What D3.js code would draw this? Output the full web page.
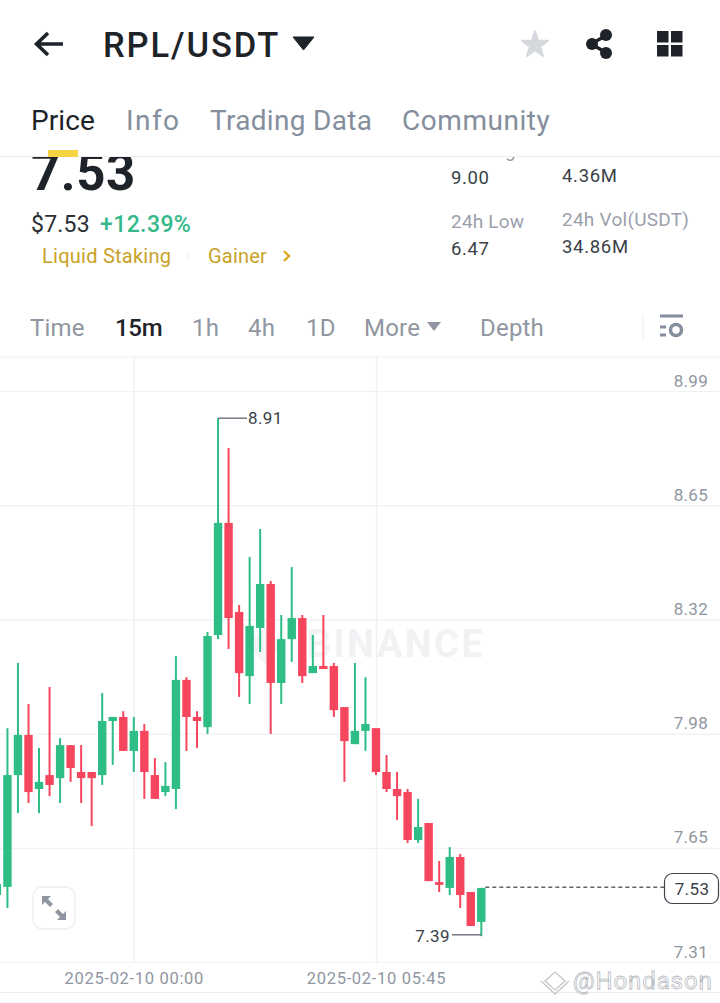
<!DOCTYPE html>
<html><head><meta charset="utf-8">
<script src="https://cdnjs.cloudflare.com/ajax/libs/d3/7.8.5/d3.min.js"></script>
<style>
html,body{margin:0;padding:0;background:#fff}
svg{display:block}
text{font-family:Roboto,"Noto Sans",sans-serif}
</style></head><body>
<svg id="c" width="720" height="1003"></svg>
<script>
// ---- data ----
const candleStart = "2025-02-09T20:45:00Z";   // first, partly hidden candle; one candle per 15 minutes
const opens  = [7.507,7.531,7.860,7.978,7.819,7.860,7.851,7.948,7.869,7.869,7.860,8.019,8.031,7.931,7.990,7.860,7.810,7.819,8.140,8.031,8.001,8.272,8.602,8.340,8.151,8.293,8.422,8.131,8.260,8.322,8.160,8.181,8.181,8.060,7.951,7.990,7.998,7.869,7.819,7.810,7.669,7.719,7.545,7.528,7.619,7.516,7.428];
const highs  = [7.539,7.998,8.190,8.069,7.940,8.119,7.969,7.948,7.948,7.869,8.101,8.031,8.048,8.031,8.010,7.910,7.898,8.210,8.148,8.048,8.281,8.910,8.822,8.360,8.502,8.584,8.431,8.331,8.472,8.331,8.272,8.331,8.190,8.060,8.190,8.148,7.998,7.919,7.869,7.819,7.790,7.719,7.607,7.648,7.628,7.516,7.528];
const lows   = [7.507,7.469,7.748,7.778,7.748,7.798,7.778,7.840,7.778,7.710,7.831,7.890,7.931,7.869,7.790,7.790,7.798,7.760,7.931,7.940,7.981,8.260,8.231,8.090,8.069,8.222,7.981,8.069,8.193,8.131,8.160,8.172,8.031,7.840,7.951,7.931,7.860,7.810,7.728,7.660,7.660,7.548,7.516,7.507,7.469,7.416,7.386];
const closes = [7.539,7.860,7.978,7.810,7.840,7.831,7.948,7.881,7.851,7.851,8.019,8.031,7.931,7.990,7.869,7.790,7.828,8.140,8.031,8.019,8.269,8.602,8.322,8.160,8.299,8.422,8.131,8.260,8.322,8.151,8.181,8.172,8.051,7.960,7.990,8.010,7.869,7.819,7.798,7.669,7.707,7.548,7.537,7.619,7.507,7.416,7.528];
const priceTicks = [8.99,8.654,8.318,7.982,7.646,7.31];
const timeTicks = ["2025-02-10T00:00:00Z","2025-02-10T05:45:00Z"];
const maxLabel = 8.91, minLabel = 7.39, lastPrice = 7.53;
const tabs = ["Price","Info","Trading Data","Community"];
const periods = ["Time","15m","1h","4h","1D","More","Depth"];
const GREEN="#2EBD85", RED="#F6465D", DARK="#1E2329", GREY="#8F96A1", LINE="#F0F1F3";

const svg = d3.select("#c");
const stepMs = 15*60*1000, t0 = new Date(candleStart).getTime();
const candles = opens.map((o,i)=>({t:new Date(t0+i*stepMs),o,h:highs[i],l:lows[i],c:closes[i]}));

// scales: calibrated to the gridlines and date labels in the picture
const y = d3.scaleLinear().domain([7.31,8.99]).range([962,391]);
const x = d3.scaleUtc().domain([new Date(timeTicks[0]),new Date(timeTicks[1])]).range([133.8,376]);

function T(s,xx,yy,size,fill,opt={}){
  const e=svg.append("text").attr("x",xx).attr("y",yy).attr("font-size",size).attr("fill",fill).text(s);
  if(opt.w)e.attr("font-weight",opt.w);
  if(opt.a)e.attr("text-anchor",opt.a);
  if(opt.ls!==undefined)e.attr("letter-spacing",opt.ls);
  if(opt.clip)e.attr("clip-path",opt.clip);
  return e;
}

// ---- header ----
svg.append("path").attr("d","M63 44H37M48 33L36.5 44L48 55").attr("fill","none").attr("stroke",DARK).attr("stroke-width",3.6);
T("RPL/USDT",103,57,34.5,DARK,{w:500,ls:1.9});
svg.append("path").attr("d","M293 37H314L303.5 50Z").attr("fill",DARK).attr("stroke",DARK).attr("stroke-width",1).attr("stroke-linejoin","round");
svg.append("path").attr("d",d3.symbol(d3.symbolStar,210)()).attr("transform","translate(535,45)").attr("fill","#D5D8DD").attr("stroke","#D5D8DD").attr("stroke-width",2).attr("stroke-linejoin","round");
svg.append("path").attr("d","M591 44L607 35M591 44L607 53").attr("stroke",DARK).attr("stroke-width",3.4);
[[592,44],[606,35],[606,53]].forEach(p=>svg.append("circle").attr("cx",p[0]).attr("cy",p[1]).attr("r",6).attr("fill",DARK));
[[657,31],[671,31],[657,45],[671,45]].forEach(p=>svg.append("rect").attr("x",p[0]).attr("y",p[1]).attr("width",11.5).attr("height",11.5).attr("fill",DARK));

// ---- tabs ----
[31,126,210,402].forEach((px,i)=>T(tabs[i],px,130,28,i===0?DARK:"#848E9C",{ls:[0.1,1.4,0.3,0.55][i]}));
svg.append("defs").append("clipPath").attr("id","under").append("rect").attr("x",0).attr("y",157).attr("width",720).attr("height",200);
T("7.53",31,190,51,DARK,{w:700,ls:0.6,clip:"url(#under)"});
svg.append("line").attr("x1",0).attr("x2",720).attr("y1",156.5).attr("y2",156.5).attr("stroke","#EDEEF0");
svg.append("rect").attr("x",48).attr("y",150).attr("width",30).attr("height",7).attr("fill","#F5D342");
T("g",505,157,19,"#929AA5",{clip:"url(#under)"});

// ---- stats ----
T("$7.53",31,232,23,"#2B2F36",{ls:0.2});
T("+12.39%",100,232,23,"#35B98A",{w:500,ls:0.4});
T("Liquid Staking",42,263,20,"#C9A227",{ls:0.25});
T("Gainer",208,263,20,"#C9A227",{ls:0.2});
svg.append("path").attr("d","M284 251L289 256L284 261").attr("fill","none").attr("stroke","#D8A823").attr("stroke-width",2.4);
svg.append("line").attr("x1",187.5).attr("x2",187.5).attr("y1",252).attr("y2",260).attr("stroke","#EEEFF1");
T("9.00",451,184,18.5,"#3A3F47",{ls:0.6});
T("4.36M",562,182,18.5,"#3A3F47",{ls:0.7});
T("24h Low",451,228,19,"#9AA1AC",{ls:0.2});
T("6.47",451,255,18.5,"#3A3F47",{ls:0.6});
T("24h Vol(USDT)",562,226,19,"#9AA1AC",{ls:0.25});
T("34.86M",562,253,18.5,"#3A3F47",{ls:0.7});

// ---- period bar ----
[30,115,192,248,306,364,480].forEach((px,i)=>T(periods[i],px,336,24,i===1?DARK:"#8F96A1",{w:i===1?500:400,ls:i===1?-0.3:0.2}));
svg.append("path").attr("d","M427 322H441L434 331Z").attr("fill","#8F96A1");
svg.append("line").attr("x1",643).attr("x2",643).attr("y1",314).attr("y2",339).attr("stroke","#E9EAEC");
svg.append("path").attr("d","M660 316H683M660 327H666M660 335H666").attr("stroke","#848E9C").attr("stroke-width",3).attr("fill","none");
svg.append("circle").attr("cx",676).attr("cy",330).attr("r",5.5).attr("fill","none").attr("stroke","#848E9C").attr("stroke-width",3.5);

// ---- chart frame + axes ----
svg.append("line").attr("x1",0).attr("x2",720).attr("y1",357).attr("y2",357).attr("stroke","#EDEEF0");
svg.append("line").attr("x1",0).attr("x2",720).attr("y1",992.5).attr("y2",992.5).attr("stroke","#EDEEF0");

const yAxis = d3.axisRight(y).tickValues(priceTicks).tickSize(720).tickFormat(d3.format(".2f"));
const gy = svg.append("g").call(yAxis);
gy.select(".domain").remove();
gy.selectAll(".tick line").attr("stroke",LINE).attr("stroke-width",1.2);
gy.selectAll(".tick text").attr("x",708).attr("dy","-5").attr("text-anchor","end")
  .attr("font-size",17).attr("fill",GREY).attr("letter-spacing",0.3).attr("font-family","Roboto");

const xAxis = d3.axisBottom(x).tickValues(timeTicks.map(d=>new Date(d))).tickSize(-605).tickFormat(d3.utcFormat("%Y-%m-%d %H:%M"));
const gx = svg.append("g").attr("transform","translate(0,962)").call(xAxis);
gx.select(".domain").attr("stroke",LINE).attr("d","M0,0.5H720");
gx.selectAll(".tick line").attr("stroke",LINE).attr("stroke-width",1.4);
gx.selectAll(".tick text").attr("y",10).attr("dy","0.71em").attr("font-size",16.5).attr("fill",GREY).attr("letter-spacing",0.68).attr("font-family","Roboto");

// watermark
T("BINANCE",396,657,38,"#F1F2F3",{w:700,a:"middle",ls:2.5});
svg.append("path").attr("d","M265 628L283 646L265 664L247 646Z").attr("fill","#F4F5F6");

// ---- candles ----
const g = svg.append("g");
const col = d=>d.c>=d.o?GREEN:RED;
g.selectAll("line.w").data(candles).join("line").attr("class","w")
  .attr("x1",d=>x(d.t)).attr("x2",d=>x(d.t)).attr("y1",d=>y(d.h)).attr("y2",d=>y(d.l))
  .attr("stroke",col).attr("stroke-width",2);
g.selectAll("rect.b").data(candles).join("rect").attr("class","b")
  .attr("x",d=>x(d.t)-4.2).attr("width",8.4)
  .attr("y",d=>y(Math.max(d.o,d.c))).attr("height",d=>Math.max(2.5,Math.abs(y(d.o)-y(d.c))))
  .attr("fill",col);

// ---- high / low callouts ----
const hi = candles.find(d=>d.h===d3.max(highs));
const lo = candles.find(d=>d.l===d3.min(lows));
svg.append("path").attr("d",`M${x(hi.t)} ${y(maxLabel)}H247`).attr("fill","none").attr("stroke","#5F6670").attr("stroke-width",1.3);
T(maxLabel.toFixed(2),248,424,17,"#3A3F47",{ls:0.4});
svg.append("path").attr("d",`M${x(lo.t)} ${y(minLabel)}H452`).attr("fill","none").attr("stroke","#5F6670").attr("stroke-width",1.3);
T(minLabel.toFixed(2),450,942,17,"#3A3F47",{a:"end",ls:0.4});

// ---- last price ----
svg.append("line").attr("x1",x(lo.t)+4).attr("x2",664).attr("y1",y(lastPrice)).attr("y2",y(lastPrice))
  .attr("stroke","#5F6670").attr("stroke-width",1.3).attr("stroke-dasharray","4 3");
svg.append("rect").attr("x",664.5).attr("y",873.5).attr("width",54).attr("height",30).attr("rx",8).attr("fill","#fff").attr("stroke","#3E444C").attr("stroke-width",1.2);
T(lastPrice.toFixed(2),692,895,17,"#3A3F47",{a:"middle",ls:0.4});

// ---- expand button ----
svg.append("rect").attr("x",33).attr("y",887).attr("width",42).attr("height",42).attr("rx",9).attr("fill","#fff").attr("stroke","#EDEEF0").attr("stroke-width",1.4);
svg.append("path").attr("d","M42 896H51L48 899L53 904L50 907L45 902L42 905ZM66 920H57L60 917L55 912L58 909L63 914L66 911Z").attr("fill","#8F96A1");

// ---- author watermark ----
T("@Hondason",573,989,24,"#fff",{ls:0.9}).attr("stroke","#B7BBC2").attr("stroke-width",0.8);
svg.append("path").attr("d","M555 972L565 981L555 990L545 981ZM541 981L555 994L569 981").attr("fill","none").attr("stroke","#C3C6CB").attr("stroke-width",1.3);
</script>
</body></html>
